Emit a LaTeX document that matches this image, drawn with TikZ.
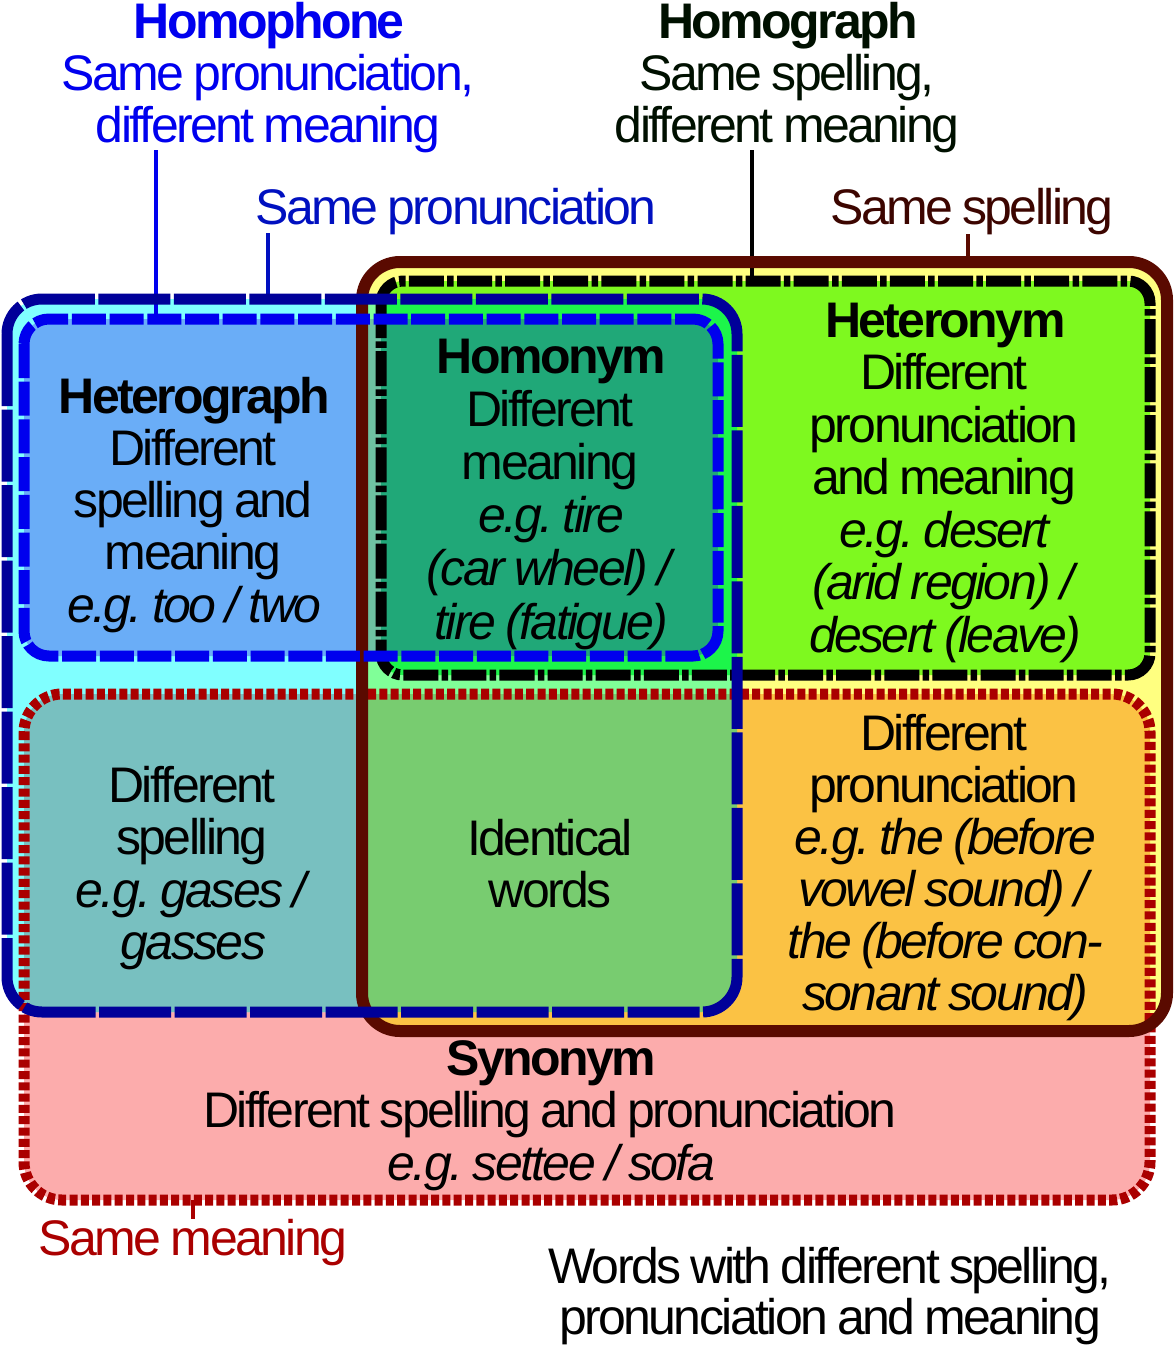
\documentclass[tikz,border=0pt]{standalone}
\usepackage{fontspec}
\setmainfont{Liberation Sans}[LetterSpace=-5.2,WordSpace={0.82,0,0}]
\frenchspacing
\definecolor{cPink}{HTML}{FCACAC}
\definecolor{cCyan}{HTML}{80FFFF}
\definecolor{cYellow}{HTML}{FFFF80}
\definecolor{cLtGreen}{HTML}{80FF98}
\definecolor{cGreen}{HTML}{7EF91F}
\definecolor{cBrGreen}{HTML}{1CF54A}
\definecolor{cLtBlue}{HTML}{6AADF7}
\definecolor{cBS}{HTML}{6EC2A2}
\definecolor{cTeal}{HTML}{20A878}
\definecolor{cAM}{HTML}{78C0C0}
\definecolor{cOrange}{HTML}{FBC244}
\definecolor{cAMS}{HTML}{78CC70}
\definecolor{cRed}{HTML}{AA0000}
\definecolor{cBrown}{HTML}{5A0A00}
\definecolor{cDkBlue}{HTML}{000099}
\definecolor{cBlue}{HTML}{0000EE}
\definecolor{cMidBlue}{HTML}{0010C0}
\definecolor{cBrownTxt}{HTML}{3C0500}
\definecolor{cGraphTxt}{HTML}{001000}
\begin{document}
\frenchspacing
\begin{tikzpicture}[x=1pt,y=-1pt,
  txt/.style={anchor=base,inner sep=0pt,font=\fontsize{50}{52.5}\selectfont\frenchspacing},
  rA/.style={rounded corners=35pt},
  rB/.style={rounded corners=25pt},
  rS/.style={rounded corners=38pt},
  rG/.style={rounded corners=22pt},
  rM/.style={rounded corners=38pt},
  bM/.style={rM,draw=cRed,line width=11pt,dash pattern=on 8pt off 3.3pt},
  bS/.style={rS,draw=cBrown,line width=12pt},
  bG/.style={rG,draw=black,line width=11pt,dash pattern=on 35pt off 3.3pt on 6.5pt off 3.3pt},
  bA/.style={rA,draw=cDkBlue,line width=11pt,dash pattern=on 72pt off 3.5pt},
  bB/.style={rB,draw=cBlue,line width=11pt,dash pattern=on 34pt off 3.7pt},
  leader/.style={line width=4pt}]
\useasboundingbox (0,0) rectangle (1174,1346);
% box corners
\coordinate (A1) at (7,299);   \coordinate (A2) at (737,1012);
\coordinate (B1) at (24,319);  \coordinate (B2) at (718,656);
\coordinate (S1) at (362,262); \coordinate (S2) at (1167,1031);
\coordinate (G1) at (381,281); \coordinate (G2) at (1150,675);
\coordinate (M1) at (24,694);  \coordinate (M2) at (1150,1200);
% region fills
\fill[cPink,rM] (M1) rectangle (M2);
\fill[cCyan,rA] (A1) rectangle (A2);
\fill[cYellow,rS] (S1) rectangle (S2);
\begin{scope}\clip[rS] (S1) rectangle (S2); \fill[cLtGreen,rA] (A1) rectangle (A2);\end{scope}
\fill[cGreen,rG] (G1) rectangle (G2);
\begin{scope}\clip[rG] (G1) rectangle (G2); \fill[cBrGreen,rA] (A1) rectangle (A2);\end{scope}
\fill[cLtBlue,rB] (B1) rectangle (B2);
\begin{scope}\clip[rS] (S1) rectangle (S2); \fill[cBS,rB] (B1) rectangle (B2);\end{scope}
\begin{scope}\clip[rG] (G1) rectangle (G2); \fill[cTeal,rB] (B1) rectangle (B2);\end{scope}
\begin{scope}
  \clip[rM] (M1) rectangle (M2);
  \fill[cAM,rA] (A1) rectangle (A2);
  \fill[cOrange,rS] (S1) rectangle (S2);
  \clip[rS] (S1) rectangle (S2);
  \fill[cAMS,rA] (A1) rectangle (A2);
\end{scope}
% titles and labels
\foreach \s [count=\i] in {\textbf{Homophone}, {Same pronunciation,}, different meaning}
  \node[txt,text=cBlue] (hp\i) at (268,{38+52*(\i-1)}) {\s};
\foreach \s [count=\i] in {\textbf{Homograph}, {Same spelling,}, different meaning}
  \node[txt,text=cGraphTxt] (hg\i) at (787,{38+52*(\i-1)}) {\s};
\node[txt,text=cMidBlue] (lpron) at (456,224) {Same pronunciation};
\node[txt,text=cBrownTxt] (lspel) at (972,224) {Same spelling};
\node[txt,text=cRed] (lmean) at (193,1255) {Same meaning};
\node[txt] (w1) at (830,1283) {Words with different spelling,};
\node[txt] (w2) at (830,1334) {pronunciation and meaning};
% leaders
\coordinate (L1a) at (156,150); \coordinate (L1b) at (156,319);
\coordinate (L2a) at (268,233); \coordinate (L2b) at (268,299);
\coordinate (L3a) at (752,150); \coordinate (L3b) at (752,281);
\coordinate (L4a) at (968,234); \coordinate (L4b) at (968,262);
\coordinate (L5a) at (193,1200); \coordinate (L5b) at (193,1219);
\draw[leader,cBlue] (L1a) -- (L1b);
\draw[leader,cMidBlue] (L2a) -- (L2b);
\draw[leader,black] (L3a) -- (L3b);
\draw[leader,cBrown] (L4a) -- (L4b);
\draw[leader,cRed] (L5a) -- (L5b);
% borders
\draw[bM] (M1) rectangle (M2);
\draw[bS] (S1) rectangle (S2);
\draw[bG] (G1) rectangle (G2);
\draw[bA] (A1) rectangle (A2);
\draw[bB] (B1) rectangle (B2);
% region texts
\foreach \s [count=\i] in {\textbf{Heterograph}, Different, spelling and, meaning, \textit{e.g. too / two}}
  \node[txt] (tgr\i) at (193,{413+52.3*(\i-1)}) {\s};
\foreach \s [count=\i] in {\textbf{Homonym}, Different, meaning, \textit{e.g. tire}, \textit{(car wheel) /}, \textit{tire (fatigue)}}
  \node[txt] (tnm\i) at (550,{373+53.2*(\i-1)}) {\s};
\foreach \s [count=\i] in {\textbf{Heteronym}, Different, pronunciation, and meaning, \textit{e.g. desert}, \textit{(arid region) /}, \textit{desert (leave)}}
  \node[txt] (ttn\i) at (944,{337+52.5*(\i-1)}) {\s};
\foreach \s [count=\i] in {Different, spelling, \textit{e.g. gases /}, \textit{gasses}}
  \node[txt] (tds\i) at (192,{802+52.5*(\i-1)}) {\s};
\foreach \s [count=\i] in {Identical, words}
  \node[txt] (tid\i) at (550,{855+52.5*(\i-1)}) {\s};
\foreach \s [count=\i] in {Different, pronunciation, \textit{e.g. the (before}, \textit{vowel sound) /}, \textit{the (before con-}, \textit{sonant sound)}}
  \node[txt] (tdp\i) at (944,{750+52*(\i-1)}) {\s};
\foreach \s [count=\i] in {\textbf{Synonym}, Different spelling and pronunciation, \textit{e.g. settee / sofa}}
  \node[txt] (tsy\i) at (550,{1075+52.5*(\i-1)}) {\s};
\end{tikzpicture}
\end{document}
